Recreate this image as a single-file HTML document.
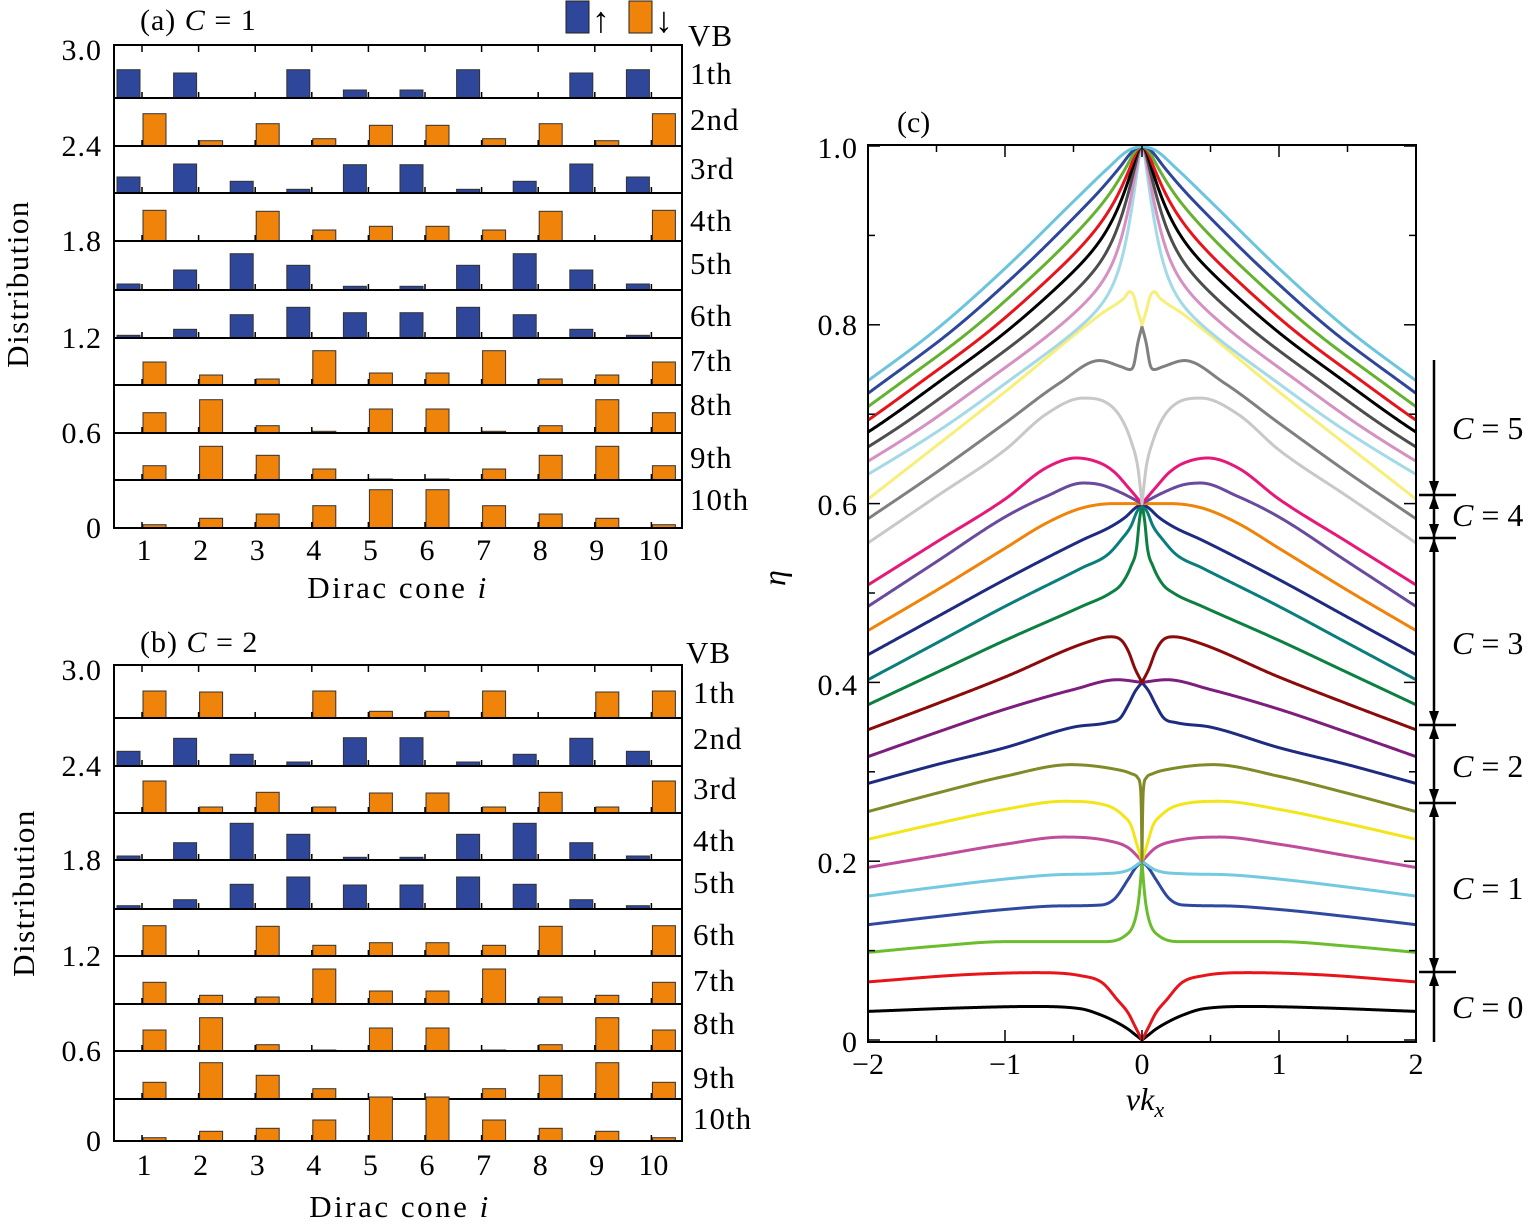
<!DOCTYPE html>
<html><head><meta charset="utf-8"><style>
html,body{margin:0;padding:0;background:#fff}
svg{display:block}
text{font-family:"Liberation Serif",serif;fill:#000}
</style></head><body>
<svg id="s" width="1539" height="1225" viewBox="0 0 1539 1225" xmlns="http://www.w3.org/2000/svg">
<defs><clipPath id="cp"><rect x="868" y="145" width="548" height="897"/></clipPath></defs>
<g id="g"></g>
<text x="140" y="30" font-size="30" letter-spacing="1">(a) <tspan font-style="italic">C</tspan> = 1</text>
<text x="140" y="652" font-size="30" letter-spacing="1">(b) <tspan font-style="italic">C</tspan> = 2</text>
<rect x="566" y="1" width="23" height="32" fill="#2e479b" stroke="#222" stroke-width="1"/>
<text x="592" y="32" font-size="36">↑</text>
<rect x="629" y="1" width="23" height="32" fill="#f0830a" stroke="#222" stroke-width="1"/>
<text x="655" y="32" font-size="36">↓</text>
<text x="688" y="46" font-size="31" letter-spacing="1">VB</text>
<text x="686" y="663" font-size="31" letter-spacing="1">VB</text>
<text transform="translate(28,284) rotate(-90)" font-size="31" letter-spacing="1.5" text-anchor="middle">Distribution</text>
<text transform="translate(34,893) rotate(-90)" font-size="31" letter-spacing="1.5" text-anchor="middle">Distribution</text>
<text x="398" y="598" font-size="31" letter-spacing="2.5" text-anchor="middle">Dirac cone <tspan font-style="italic">i</tspan></text>
<text x="400" y="1217" font-size="31" letter-spacing="2.5" text-anchor="middle">Dirac cone <tspan font-style="italic">i</tspan></text>
<text x="897" y="132" font-size="30">(c)</text>
<text transform="translate(785,578) rotate(-90)" font-size="32" font-style="italic" text-anchor="middle">η</text>
<text x="1145" y="1110" font-size="32" text-anchor="middle"><tspan font-style="italic">vk</tspan><tspan font-style="italic" font-size="22" dy="7">x</tspan></text>
</svg>
<script>
(function(){
var NS="http://www.w3.org/2000/svg",G=document.getElementById('g');
function el(t,a,txt){var e=document.createElementNS(NS,t);for(var k in a)e.setAttribute(k,a[k]);if(txt!=null)e.textContent=txt;G.appendChild(e);return e;}
var BLUE="#2e479b",OR="#f0830a";
function panel(bounds,rows,labels,labx,ticks,ylab,xlaby){
  var L=114,R=682;
  for(var r=0;r<10;r++){
    var tp=bounds[r],base=bounds[r+1],row=rows[r];
    for(var i=0;i<10;i++){
      var tx=142+i*56.6,h=row[1][i];
      if(h>0){var x=row[0]=='b'?tx-25:tx+1;
        el('rect',{x:x,y:base-h,width:23,height:h,fill:row[0]=='b'?BLUE:OR,stroke:'#333','stroke-width':1});}
      el('line',{x1:tx,y1:base,x2:tx,y2:base-6,stroke:'#000','stroke-width':1.5});
    }
    el('line',{x1:L,y1:base,x2:R,y2:base,stroke:'#000','stroke-width':2});
    el('text',{x:labx,y:labels[r][0]+11,'font-size':31,'letter-spacing':1},labels[r][1]);
  }
  for(var i=0;i<10;i++){var tx=142+i*56.6;el('line',{x1:tx,y1:bounds[0],x2:tx,y2:bounds[0]+7,stroke:'#000','stroke-width':1.5});
    el('text',{x:tx+2,y:xlaby,'font-size':30,'text-anchor':'middle'},String(i+1));}
  el('rect',{x:L,y:bounds[0],width:R-L,height:bounds[10]-bounds[0],fill:'none',stroke:'#000','stroke-width':2});
  for(var j=0;j<6;j++)el('text',{x:102,y:ticks[j]+10,'font-size':30,'text-anchor':'end','letter-spacing':1},ylab[j]);
}
var A=[['b',[28.3,25,0,28.3,8,8,28.3,0,25,28.3]],['o',[32.3,5.3,22.3,7.3,20.7,20.7,7.3,22.3,5.3,32.3]],['b',[16,29,11.7,3.7,28.3,28.3,3.7,11.7,29,16]],['o',[30.7,0,29.7,11,14.7,14.7,11,29.7,0,30.7]],['b',[6,20,36.3,24.7,3.7,3.7,24.7,36.3,20,6]],['b',[2.7,8.7,23.3,30.7,25.3,25.3,30.7,23.3,8.7,2.7]],['o',[23,10,6,34.3,12,12,34.3,6,10,23]],['o',[20.3,33.3,7.3,1.7,24,24,1.7,7.3,33.3,20.3]],['o',[14.3,33.7,24.7,11,1,1,11,24.7,33.7,14.3]],['o',[3.3,9.7,14,22.3,38.3,38.3,22.3,14,9.7,3.3]]];
var B=[['o',[27,26,0,27,6.7,6.7,27,0,26,27]],['b',[14.7,27.7,11.7,4,28.3,28.3,4,11.7,27.7,14.7]],['o',[32,6,20.7,6,20,20,6,20.7,6,32]],['b',[4,17.3,36.7,25.7,2.7,2.7,25.7,36.7,17.3,4]],['b',[3.3,9.3,24.7,32,24,24,32,24.7,9.3,3.3]],['o',[30.3,0,29.7,10.7,13.3,13.3,10.7,29.7,0,30.3]],['o',[21.7,8.7,7,35,13,13,35,7,8.7,21.7]],['o',[21,33.3,6.3,1,23,23,1,6.3,33.3,21]],['o',[16.7,36.3,23.7,10.3,2,2,10.3,23.7,36.3,16.7]],['o',[3.3,9.7,12.7,21,44,44,21,12.7,9.7,3.3]]];
var YL=["3.0","2.4","1.8","1.2","0.6","0"];
panel([45,98,146,193,241,290,338,385,433,480,528],A,[[73,'1th'],[119,'2nd'],[168,'3rd'],[220,'4th'],[263,'5th'],[315,'6th'],[360,'7th'],[404,'8th'],[457,'9th'],[499,'10th']],690,[50,146,241,338,433,528],YL,560);
panel([665,718,766,813,860,909,956,1004,1051,1099,1141],B,[[692,'1th'],[738,'2nd'],[788,'3rd'],[840,'4th'],[882,'5th'],[934,'6th'],[980,'7th'],[1023,'8th'],[1077,'9th'],[1118,'10th']],693,[670,766,860,956,1051,1141],YL,1175);

function X(k){return 1142+k*137;} function Y(e){return 1040-e*894;}
function interp(pts){
  var n=pts.length,xs=pts.map(function(p){return p[0]}),ys=pts.map(function(p){return p[1]}),d=[],m=[];
  for(var i=0;i<n-1;i++)d.push((ys[i+1]-ys[i])/(xs[i+1]-xs[i]));
  m[0]=d[0];m[n-1]=d[n-2];
  for(var i=1;i<n-1;i++){m[i]=(d[i-1]*d[i]<=0)?0:(d[i-1]+d[i])/2;}
  for(var i=0;i<n-1;i++){if(d[i]==0){m[i]=0;m[i+1]=0;continue;}var a=m[i]/d[i],b=m[i+1]/d[i],s=a*a+b*b;if(s>9){var t=3/Math.sqrt(s);m[i]=t*a*d[i];m[i+1]=t*b*d[i];}}
  return function(x){
    if(x>=xs[n-1])return ys[n-1]+m[n-1]*(x-xs[n-1]);
    var i=0;while(i<n-2&&x>xs[i+1])i++;
    var h=xs[i+1]-xs[i],t=(x-xs[i])/h,t2=t*t,t3=t2*t;
    return (2*t3-3*t2+1)*ys[i]+(t3-2*t2+t)*h*m[i]+(-2*t3+3*t2)*ys[i+1]+(t3-t2)*h*m[i+1];};
}
function draw(fn,col){
  var N=600,p=[];
  for(var j=-N;j<=N;j++){var s=j/N,k=2*(s<0?-1:1)*Math.pow(Math.abs(s),1.6);p.push(X(k).toFixed(2)+','+Y(fn(Math.abs(k))).toFixed(2));}
  el('polyline',{points:p.join(' '),fill:'none',stroke:col,'stroke-width':3,'clip-path':'url(#cp)','stroke-linejoin':'round'});
}
var f=interp([[0,1],[0.1,0.995],[0.25,0.975],[0.5,0.938],[1,0.863],[1.5,0.795],[2,0.7375],[2.5,0.683],[3.5,0.59]]);
var tops=[[1.03,0.15,"#a4d9e8"],[0.87,0.17,"#d591c2"],[0.7,0.19,"#4d4d4d"],[0.53,0.2,"#000"],[0.4,0.21,"#e8141c"],[0.26,0.22,"#64b22f"],[0.126,0.22,"#2e479b"]];
var C=[
[[[0,0],[0.05,0.006],[0.1,0.012],[0.2,0.021],[0.3,0.028],[0.45,0.035],[0.8,0.0375],[1.3,0.036],[2,0.032]],"#000"],
[[[0,0],[0.05,0.015],[0.1,0.03],[0.18,0.045],[0.29,0.064],[0.45,0.072],[0.78,0.0753],[1.3,0.073],[2,0.065]],"#e8141c"],
[[[0,0.2],[0.015,0.17],[0.03,0.15],[0.06,0.13],[0.12,0.117],[0.29,0.11],[0.6,0.11],[1,0.11],[1.5,0.105],[2,0.098]],"#6abd2d"],
[[[0,0.2],[0.05,0.192],[0.1,0.18],[0.2,0.158],[0.3,0.151],[0.6,0.15],[1,0.146],[1.5,0.138],[2,0.129]],"#2f49a0"],
[[[0,0.2],[0.1,0.19],[0.3,0.186],[0.6,0.185],[1,0.18],[1.5,0.171],[2,0.161]],"#72c9e0"],
[[[0,0.2],[0.1,0.215],[0.25,0.223],[0.57,0.227],[1,0.219],[1.5,0.206],[2,0.193]],"#c04c9c"],
[[[0,0.2],[0.04,0.22],[0.08,0.24],[0.13,0.25],[0.25,0.262],[0.57,0.267],[1,0.258],[1.5,0.242],[2,0.2245]],"#f2e61a"],
[[[0,0.2],[0.004,0.25],[0.01,0.28],[0.03,0.293],[0.08,0.298],[0.2,0.303],[0.52,0.308],[1,0.295],[1.5,0.276],[2,0.2555]],"#808a26"],
[[[0,0.4],[0.05,0.39],[0.1,0.375],[0.16,0.36],[0.25,0.355],[0.5,0.35],[1,0.327],[1.5,0.308],[2,0.287]],"#1d2b80"],
[[[0,0.4],[0.18,0.403],[0.5,0.392],[1,0.37],[1.5,0.344],[2,0.317]],"#7d1e7e"],
[[[0,0.4],[0.05,0.415],[0.1,0.435],[0.15,0.447],[0.23,0.451],[0.4,0.445],[1,0.406],[1.5,0.376],[2,0.347]],"#8b0a0a"],
[[[0,0.6],[0.02,0.58],[0.04,0.55],[0.08,0.53],[0.15,0.51],[0.23,0.5],[0.44,0.485],[1,0.447],[1.5,0.411],[2,0.375]],"#0c8040"],
[[[0,0.6],[0.04,0.59],[0.08,0.575],[0.15,0.56],[0.25,0.543],[0.44,0.528],[1,0.485],[1.5,0.444],[2,0.403]],"#0a7d7d"],
[[[0,0.6],[0.05,0.595],[0.12,0.585],[0.23,0.574],[0.44,0.559],[1,0.515],[1.5,0.473],[2,0.431]],"#1d2b80"],
[[[0,0.6],[0.2,0.6],[0.44,0.595],[0.7,0.578],[1,0.55],[1.5,0.503],[2,0.458]],"#f0830a"],
[[[0,0.6],[0.15,0.612],[0.3,0.621],[0.43,0.623],[0.7,0.608],[1,0.585],[1.5,0.535],[2,0.485]],"#6a4a9c"],
[[[0,0.6],[0.1,0.618],[0.2,0.635],[0.3,0.645],[0.48,0.651],[0.7,0.64],[1,0.605],[1.5,0.557],[2,0.509]],"#e6197a"],
[[[0,0.6],[0.03,0.64],[0.08,0.67],[0.15,0.695],[0.25,0.712],[0.43,0.718],[0.7,0.7],[1,0.66],[1.5,0.608],[2,0.556]],"#c8c8c8"],
[[[0,0.798],[0.03,0.78],[0.06,0.755],[0.09,0.75],[0.15,0.753],[0.31,0.76],[0.6,0.735],[1,0.69],[1.5,0.635],[2,0.583]],"#808080"],
[[[0,0.8],[0.03,0.815],[0.06,0.832],[0.09,0.837],[0.13,0.83],[0.3,0.812],[1,0.725],[2,0.605]],"#f7ef7a"]];
C.forEach(function(c){draw(interp(c[0]),c[1]);});
tops.forEach(function(t){var d=t[0],w=t[1];draw(function(k){return f(k+d*Math.tanh(k/w));},t[2]);});
draw(f,"#6cc5dd");
el('rect',{x:868,y:145,width:548,height:897,fill:'none',stroke:'#000','stroke-width':2});
for(var q=-4;q<=4;q++){var k=q/2,x=X(k),L=(q%2==0)?12:7;
  el('line',{x1:x,y1:1042,x2:x,y2:1042-L,stroke:'#000','stroke-width':1.5});el('line',{x1:x,y1:145,x2:x,y2:145+L,stroke:'#000','stroke-width':1.5});}
for(var i=0;i<=10;i++){var y=Y(i/10),L=(i%2==0)?12:7;
  el('line',{x1:868,y1:y,x2:868+L,y2:y,stroke:'#000','stroke-width':1.5});el('line',{x1:1416,y1:y,x2:1416-L,y2:y,stroke:'#000','stroke-width':1.5});}
[["1.0",148],["0.8",325],["0.6",505],["0.4",685],["0.2",863],["0",1042]].forEach(function(t){el('text',{x:858,y:t[1]+10,'font-size':30,'text-anchor':'end','letter-spacing':1},t[0]);});
[["−2",868],["−1",1005],["0",1142],["1",1279],["2",1416]].forEach(function(t){el('text',{x:t[1],y:1074,'font-size':30,'text-anchor':'middle'},t[0]);});
var ax=1434;
el('line',{x1:ax,y1:360,x2:ax,y2:1042,stroke:'#000','stroke-width':2.5});
var ys=[495,538,725,803,972];
ys.forEach(function(y){el('line',{x1:1419,y1:y,x2:1456,y2:y,stroke:'#000','stroke-width':2.5});});
function arr(y,dir){var h=dir*14;el('polygon',{points:ax+','+y+' '+(ax-5)+','+(y-h)+' '+(ax+5)+','+(y-h),fill:'#000'});}
ys.forEach(function(y){arr(y,1);arr(y,-1);});
[["5",428],["4",515],["3",643],["2",766],["1",888],["0",1007]].forEach(function(t){
  var e=el('text',{x:1452,y:t[1]+11,'font-size':32});
  var a=document.createElementNS(NS,'tspan');a.setAttribute('font-style','italic');a.textContent='C';e.appendChild(a);
  e.appendChild(document.createTextNode(' = '+t[0]));});
})();
</script>
</body></html>
